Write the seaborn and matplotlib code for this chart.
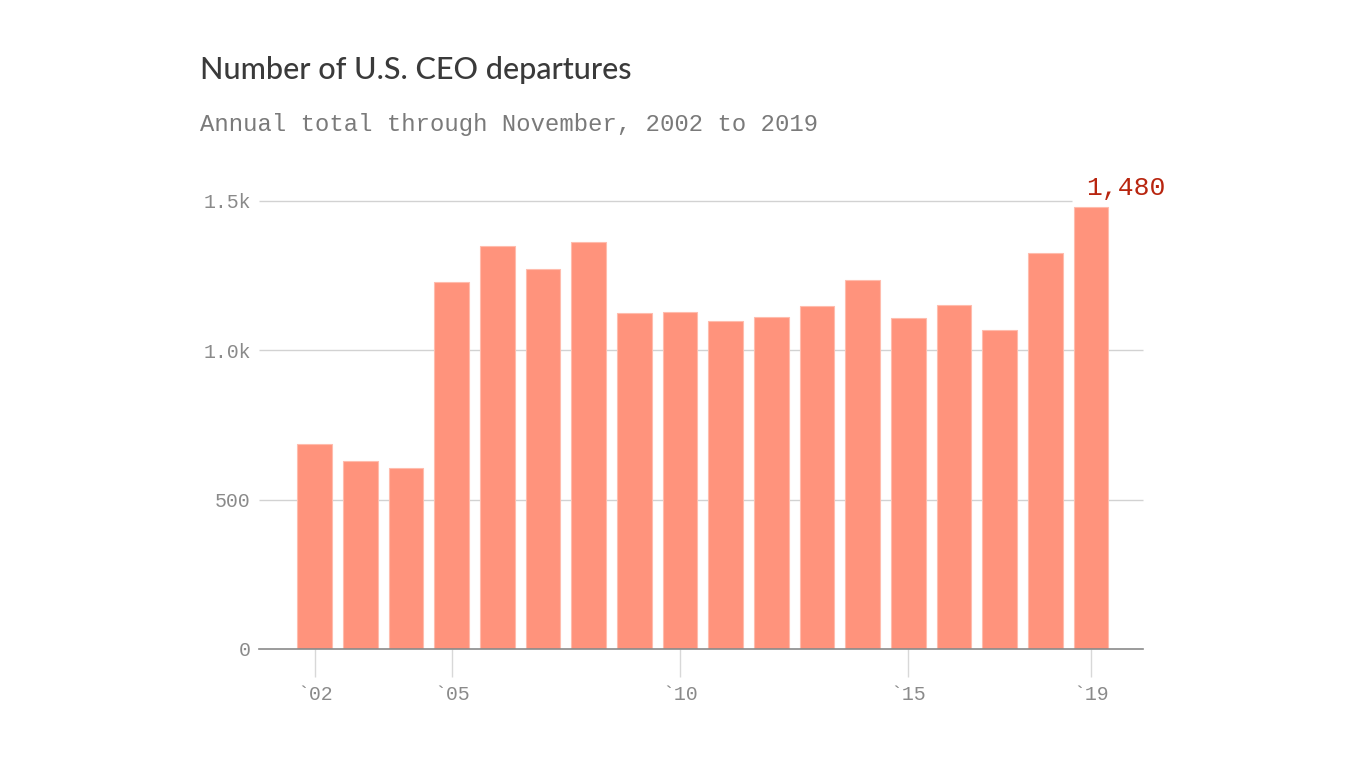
import matplotlib
matplotlib.use('Agg')
import matplotlib.pyplot as plt
import seaborn as sns
import pandas as pd

# data
years = list(range(2002, 2020))
departures = [686, 629, 607, 1229, 1348, 1272, 1362, 1124,
              1128, 1096, 1112, 1148, 1235, 1108, 1150, 1067, 1324, 1480]
tick_years = [2002, 2005, 2010, 2015, 2019]
tick_labels = ['`02', '`05', '`10', '`15', '`19']
y_ticks = [0, 500, 1000, 1500]
y_labels = ['0', '500', '1.0k', '1.5k']

df = pd.DataFrame({'year': years, 'n': departures})

sns.set_style('white')
plt.rcParams['font.family'] = ['Liberation Mono', 'DejaVu Sans Mono']

BAR_W = 0.76
fig = plt.figure(figsize=(13.66, 7.68), dpi=100)
ax = fig.add_axes([259/1366, 1 - 649/768, (1143 - 259)/1366, (649 - 200.7)/768])

sns.barplot(data=df, x='year', y='n', color='#ff937c', width=BAR_W,
            saturation=1, edgecolor='#ffbcad', linewidth=0.8, ax=ax, zorder=3)

xmin, xmax = -1.22, 18.14
ax.set_xlim(xmin, xmax)
ax.set_ylim(0, 1500)
ax.set_yticks(y_ticks)
ax.set_yticklabels(y_labels)
pos = [years.index(y) for y in tick_years]
ax.set_xticks(pos)
ax.set_xticklabels(tick_labels)
ax.set_xlabel('')
ax.set_ylabel('')

# grid lines; the top one stops where the 1,480 label sits
last = len(years) - 1
for v in y_ticks[1:]:
    right = last - BAR_W / 2 - 0.03 if v == y_ticks[-1] else xmax
    ax.hlines(v, xmin, right, color='#d2d2d2', lw=1, zorder=1, clip_on=False)

for s in ['top', 'right', 'left']:
    ax.spines[s].set_visible(False)
ax.spines['bottom'].set_color('#8a8a8a')
ax.spines['bottom'].set_linewidth(1.2)
ax.spines['bottom'].set_zorder(4)

ax.tick_params(axis='y', left=False, length=0, pad=6, labelsize=14.3,
               labelcolor='#8a8a8a')
ax.tick_params(axis='x', bottom=True, length=20, width=1, color='#d8d8d8',
               pad=6, labelsize=14.3, labelcolor='#8a8a8a')

# highlight label on the last bar
ax.text(last - BAR_W / 2 + 0.28, departures[-1] + 22, f'{departures[-1]:,}',
        ha='left', va='bottom', fontsize=19, color='#b8250f', zorder=5,
        clip_on=False)

fig.text(200/1366, 1 - 70/768, 'Number of U.S. CEO departures',
         fontsize=22, color='#3a3a3a', family=['Lato', 'DejaVu Sans'],
         fontweight='medium', va='center', ha='left')
fig.text(200/1366, 1 - 124/768, 'Annual total through November, 2002 to 2019',
         fontsize=17.2, color='#7a7a7a', va='center', ha='left')

fig.savefig('out.png', dpi=100, facecolor='white')
